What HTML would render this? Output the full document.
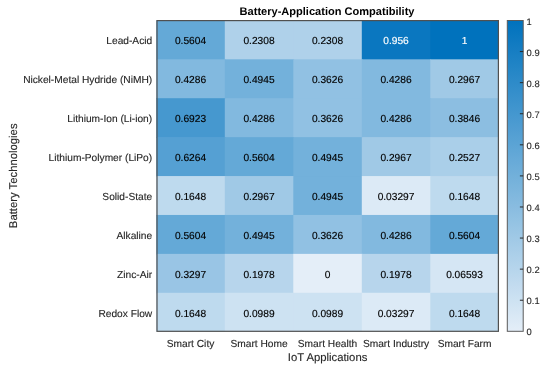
<!DOCTYPE html>
<html><head><meta charset="utf-8"><style>
html,body{margin:0;padding:0;background:#fff;}
body{width:550px;height:369px;overflow:hidden;font-family:"Liberation Sans",sans-serif;}
svg{display:block;will-change:transform;}
text{font-family:"Liberation Sans",sans-serif;text-rendering:geometricPrecision;}
</style></head><body>
<svg width="550" height="369" viewBox="0 0 550 369" font-family="Liberation Sans, sans-serif"><defs><linearGradient id="g" x1="0" y1="0" x2="0" y2="1"><stop offset="0.00" stop-color="#0072bd"/><stop offset="0.05" stop-color="#0b78c0"/><stop offset="0.10" stop-color="#177ec3"/><stop offset="0.15" stop-color="#2285c6"/><stop offset="0.20" stop-color="#2e8bc9"/><stop offset="0.25" stop-color="#3991cc"/><stop offset="0.30" stop-color="#4497cf"/><stop offset="0.35" stop-color="#509dd2"/><stop offset="0.40" stop-color="#5ba4d5"/><stop offset="0.45" stop-color="#67aad8"/><stop offset="0.50" stop-color="#72b0da"/><stop offset="0.55" stop-color="#7db6dd"/><stop offset="0.60" stop-color="#89bce0"/><stop offset="0.65" stop-color="#94c3e3"/><stop offset="0.70" stop-color="#a0c9e6"/><stop offset="0.75" stop-color="#abcfe9"/><stop offset="0.80" stop-color="#b6d5ec"/><stop offset="0.85" stop-color="#c2dbef"/><stop offset="0.90" stop-color="#cde2f2"/><stop offset="0.95" stop-color="#d9e8f5"/><stop offset="1.00" stop-color="#e4eef8"/></linearGradient></defs>
<rect x="156.30" y="20.40" width="69.30" height="39.71" fill="#64a9d7"/>
<rect x="224.80" y="20.40" width="69.30" height="39.71" fill="#afd1ea"/>
<rect x="293.30" y="20.40" width="69.30" height="39.71" fill="#afd1ea"/>
<rect x="361.80" y="20.40" width="69.30" height="39.71" fill="#0a77c0"/>
<rect x="430.30" y="20.40" width="68.50" height="39.71" fill="#0072bd"/>
<rect x="156.30" y="59.31" width="69.30" height="39.71" fill="#82b9df"/>
<rect x="224.80" y="59.31" width="69.30" height="39.71" fill="#73b1db"/>
<rect x="293.30" y="59.31" width="69.30" height="39.71" fill="#91c1e3"/>
<rect x="361.80" y="59.31" width="69.30" height="39.71" fill="#82b9df"/>
<rect x="430.30" y="59.31" width="68.50" height="39.71" fill="#a0c9e6"/>
<rect x="156.30" y="98.22" width="69.30" height="39.71" fill="#4698cf"/>
<rect x="224.80" y="98.22" width="69.30" height="39.71" fill="#82b9df"/>
<rect x="293.30" y="98.22" width="69.30" height="39.71" fill="#91c1e3"/>
<rect x="361.80" y="98.22" width="69.30" height="39.71" fill="#82b9df"/>
<rect x="430.30" y="98.22" width="68.50" height="39.71" fill="#8cbee1"/>
<rect x="156.30" y="137.14" width="69.30" height="39.71" fill="#55a0d3"/>
<rect x="224.80" y="137.14" width="69.30" height="39.71" fill="#64a9d7"/>
<rect x="293.30" y="137.14" width="69.30" height="39.71" fill="#73b1db"/>
<rect x="361.80" y="137.14" width="69.30" height="39.71" fill="#a0c9e6"/>
<rect x="430.30" y="137.14" width="68.50" height="39.71" fill="#aacfe9"/>
<rect x="156.30" y="176.05" width="69.30" height="39.71" fill="#bedaee"/>
<rect x="224.80" y="176.05" width="69.30" height="39.71" fill="#a0c9e6"/>
<rect x="293.30" y="176.05" width="69.30" height="39.71" fill="#73b1db"/>
<rect x="361.80" y="176.05" width="69.30" height="39.71" fill="#dceaf6"/>
<rect x="430.30" y="176.05" width="68.50" height="39.71" fill="#bedaee"/>
<rect x="156.30" y="214.96" width="69.30" height="39.71" fill="#64a9d7"/>
<rect x="224.80" y="214.96" width="69.30" height="39.71" fill="#73b1db"/>
<rect x="293.30" y="214.96" width="69.30" height="39.71" fill="#91c1e3"/>
<rect x="361.80" y="214.96" width="69.30" height="39.71" fill="#82b9df"/>
<rect x="430.30" y="214.96" width="68.50" height="39.71" fill="#64a9d7"/>
<rect x="156.30" y="253.88" width="69.30" height="39.71" fill="#99c5e5"/>
<rect x="224.80" y="253.88" width="69.30" height="39.71" fill="#b7d5ec"/>
<rect x="293.30" y="253.88" width="69.30" height="39.71" fill="#e4eef8"/>
<rect x="361.80" y="253.88" width="69.30" height="39.71" fill="#b7d5ec"/>
<rect x="430.30" y="253.88" width="68.50" height="39.71" fill="#d5e6f4"/>
<rect x="156.30" y="292.79" width="69.30" height="38.91" fill="#bedaee"/>
<rect x="224.80" y="292.79" width="69.30" height="38.91" fill="#cde2f2"/>
<rect x="293.30" y="292.79" width="69.30" height="38.91" fill="#cde2f2"/>
<rect x="361.80" y="292.79" width="69.30" height="38.91" fill="#dceaf6"/>
<rect x="430.30" y="292.79" width="68.50" height="38.91" fill="#bedaee"/>
<text x="190.55" y="44.26" text-anchor="middle" font-size="10.2" fill="#000000" stroke="#000000" stroke-width="0.15">0.5604</text>
<text x="259.05" y="44.26" text-anchor="middle" font-size="10.2" fill="#000000" stroke="#000000" stroke-width="0.15">0.2308</text>
<text x="327.55" y="44.26" text-anchor="middle" font-size="10.2" fill="#000000" stroke="#000000" stroke-width="0.15">0.2308</text>
<text x="396.05" y="44.26" text-anchor="middle" font-size="10.2" fill="#ffffff" stroke="#ffffff" stroke-width="0.15">0.956</text>
<text x="464.55" y="44.26" text-anchor="middle" font-size="10.2" fill="#ffffff" stroke="#ffffff" stroke-width="0.15">1</text>
<text x="190.55" y="83.17" text-anchor="middle" font-size="10.2" fill="#000000" stroke="#000000" stroke-width="0.15">0.4286</text>
<text x="259.05" y="83.17" text-anchor="middle" font-size="10.2" fill="#000000" stroke="#000000" stroke-width="0.15">0.4945</text>
<text x="327.55" y="83.17" text-anchor="middle" font-size="10.2" fill="#000000" stroke="#000000" stroke-width="0.15">0.3626</text>
<text x="396.05" y="83.17" text-anchor="middle" font-size="10.2" fill="#000000" stroke="#000000" stroke-width="0.15">0.4286</text>
<text x="464.55" y="83.17" text-anchor="middle" font-size="10.2" fill="#000000" stroke="#000000" stroke-width="0.15">0.2967</text>
<text x="190.55" y="122.08" text-anchor="middle" font-size="10.2" fill="#000000" stroke="#000000" stroke-width="0.15">0.6923</text>
<text x="259.05" y="122.08" text-anchor="middle" font-size="10.2" fill="#000000" stroke="#000000" stroke-width="0.15">0.4286</text>
<text x="327.55" y="122.08" text-anchor="middle" font-size="10.2" fill="#000000" stroke="#000000" stroke-width="0.15">0.3626</text>
<text x="396.05" y="122.08" text-anchor="middle" font-size="10.2" fill="#000000" stroke="#000000" stroke-width="0.15">0.4286</text>
<text x="464.55" y="122.08" text-anchor="middle" font-size="10.2" fill="#000000" stroke="#000000" stroke-width="0.15">0.3846</text>
<text x="190.55" y="160.99" text-anchor="middle" font-size="10.2" fill="#000000" stroke="#000000" stroke-width="0.15">0.6264</text>
<text x="259.05" y="160.99" text-anchor="middle" font-size="10.2" fill="#000000" stroke="#000000" stroke-width="0.15">0.5604</text>
<text x="327.55" y="160.99" text-anchor="middle" font-size="10.2" fill="#000000" stroke="#000000" stroke-width="0.15">0.4945</text>
<text x="396.05" y="160.99" text-anchor="middle" font-size="10.2" fill="#000000" stroke="#000000" stroke-width="0.15">0.2967</text>
<text x="464.55" y="160.99" text-anchor="middle" font-size="10.2" fill="#000000" stroke="#000000" stroke-width="0.15">0.2527</text>
<text x="190.55" y="199.91" text-anchor="middle" font-size="10.2" fill="#000000" stroke="#000000" stroke-width="0.15">0.1648</text>
<text x="259.05" y="199.91" text-anchor="middle" font-size="10.2" fill="#000000" stroke="#000000" stroke-width="0.15">0.2967</text>
<text x="327.55" y="199.91" text-anchor="middle" font-size="10.2" fill="#000000" stroke="#000000" stroke-width="0.15">0.4945</text>
<text x="396.05" y="199.91" text-anchor="middle" font-size="10.2" fill="#000000" stroke="#000000" stroke-width="0.15">0.03297</text>
<text x="464.55" y="199.91" text-anchor="middle" font-size="10.2" fill="#000000" stroke="#000000" stroke-width="0.15">0.1648</text>
<text x="190.55" y="238.82" text-anchor="middle" font-size="10.2" fill="#000000" stroke="#000000" stroke-width="0.15">0.5604</text>
<text x="259.05" y="238.82" text-anchor="middle" font-size="10.2" fill="#000000" stroke="#000000" stroke-width="0.15">0.4945</text>
<text x="327.55" y="238.82" text-anchor="middle" font-size="10.2" fill="#000000" stroke="#000000" stroke-width="0.15">0.3626</text>
<text x="396.05" y="238.82" text-anchor="middle" font-size="10.2" fill="#000000" stroke="#000000" stroke-width="0.15">0.4286</text>
<text x="464.55" y="238.82" text-anchor="middle" font-size="10.2" fill="#000000" stroke="#000000" stroke-width="0.15">0.5604</text>
<text x="190.55" y="277.73" text-anchor="middle" font-size="10.2" fill="#000000" stroke="#000000" stroke-width="0.15">0.3297</text>
<text x="259.05" y="277.73" text-anchor="middle" font-size="10.2" fill="#000000" stroke="#000000" stroke-width="0.15">0.1978</text>
<text x="327.55" y="277.73" text-anchor="middle" font-size="10.2" fill="#000000" stroke="#000000" stroke-width="0.15">0</text>
<text x="396.05" y="277.73" text-anchor="middle" font-size="10.2" fill="#000000" stroke="#000000" stroke-width="0.15">0.1978</text>
<text x="464.55" y="277.73" text-anchor="middle" font-size="10.2" fill="#000000" stroke="#000000" stroke-width="0.15">0.06593</text>
<text x="190.55" y="316.64" text-anchor="middle" font-size="10.2" fill="#000000" stroke="#000000" stroke-width="0.15">0.1648</text>
<text x="259.05" y="316.64" text-anchor="middle" font-size="10.2" fill="#000000" stroke="#000000" stroke-width="0.15">0.0989</text>
<text x="327.55" y="316.64" text-anchor="middle" font-size="10.2" fill="#000000" stroke="#000000" stroke-width="0.15">0.0989</text>
<text x="396.05" y="316.64" text-anchor="middle" font-size="10.2" fill="#000000" stroke="#000000" stroke-width="0.15">0.03297</text>
<text x="464.55" y="316.64" text-anchor="middle" font-size="10.2" fill="#000000" stroke="#000000" stroke-width="0.15">0.1648</text>
<rect x="157.0" y="20.6" width="341.40" height="310.70" fill="none" stroke="#505050" stroke-width="1.2"/>
<text x="152.2" y="44.16" text-anchor="end" font-size="10.2" fill="#262626" stroke="#262626" stroke-width="0.12">Lead-Acid</text>
<text x="152.2" y="83.07" text-anchor="end" font-size="10.2" fill="#262626" stroke="#262626" stroke-width="0.12">Nickel-Metal Hydride (NiMH)</text>
<text x="152.2" y="121.98" text-anchor="end" font-size="10.2" fill="#262626" stroke="#262626" stroke-width="0.12">Lithium-Ion (Li-ion)</text>
<text x="152.2" y="160.89" text-anchor="end" font-size="10.2" fill="#262626" stroke="#262626" stroke-width="0.12">Lithium-Polymer (LiPo)</text>
<text x="152.2" y="199.81" text-anchor="end" font-size="10.2" fill="#262626" stroke="#262626" stroke-width="0.12">Solid-State</text>
<text x="152.2" y="238.72" text-anchor="end" font-size="10.2" fill="#262626" stroke="#262626" stroke-width="0.12">Alkaline</text>
<text x="152.2" y="277.63" text-anchor="end" font-size="10.2" fill="#262626" stroke="#262626" stroke-width="0.12">Zinc-Air</text>
<text x="152.2" y="316.54" text-anchor="end" font-size="10.2" fill="#262626" stroke="#262626" stroke-width="0.12">Redox Flow</text>
<text x="190.55" y="346.8" text-anchor="middle" font-size="10.2" fill="#262626" stroke="#262626" stroke-width="0.12">Smart City</text>
<text x="259.05" y="346.8" text-anchor="middle" font-size="10.2" fill="#262626" stroke="#262626" stroke-width="0.12">Smart Home</text>
<text x="327.55" y="346.8" text-anchor="middle" font-size="10.2" fill="#262626" stroke="#262626" stroke-width="0.12">Smart Health</text>
<text x="396.05" y="346.8" text-anchor="middle" font-size="10.2" fill="#262626" stroke="#262626" stroke-width="0.12">Smart Industry</text>
<text x="464.55" y="346.8" text-anchor="middle" font-size="10.2" fill="#262626" stroke="#262626" stroke-width="0.12">Smart Farm</text>
<text x="327.05" y="15.2" text-anchor="middle" font-size="11.05" font-weight="bold" fill="#000000">Battery-Application Compatibility</text>
<text x="327.55" y="361.1" text-anchor="middle" font-size="11.3" fill="#262626" stroke="#262626" stroke-width="0.12">IoT Applications</text>
<text transform="translate(16.8,175.8) rotate(-90)" x="0" y="0" text-anchor="middle" font-size="11.3" fill="#262626" stroke="#262626" stroke-width="0.12">Battery Technologies</text>
<rect x="507.3" y="20.5" width="15.90" height="310.80"  fill="url(#g)" stroke="#5a5a5a" stroke-width="1"/>
<text x="526.6" y="335.30" font-size="9.4" fill="#262626" stroke="#262626" stroke-width="0.12">0</text>
<line x1="519.90" y1="300.22" x2="523.20" y2="300.22" stroke="#262626" stroke-width="1"/>
<text x="526.6" y="304.22" font-size="9.4" fill="#262626" stroke="#262626" stroke-width="0.12">0.1</text>
<line x1="519.90" y1="269.14" x2="523.20" y2="269.14" stroke="#262626" stroke-width="1"/>
<text x="526.6" y="273.14" font-size="9.4" fill="#262626" stroke="#262626" stroke-width="0.12">0.2</text>
<line x1="519.90" y1="238.06" x2="523.20" y2="238.06" stroke="#262626" stroke-width="1"/>
<text x="526.6" y="242.06" font-size="9.4" fill="#262626" stroke="#262626" stroke-width="0.12">0.3</text>
<line x1="519.90" y1="206.98" x2="523.20" y2="206.98" stroke="#262626" stroke-width="1"/>
<text x="526.6" y="210.98" font-size="9.4" fill="#262626" stroke="#262626" stroke-width="0.12">0.4</text>
<line x1="519.90" y1="175.90" x2="523.20" y2="175.90" stroke="#262626" stroke-width="1"/>
<text x="526.6" y="179.90" font-size="9.4" fill="#262626" stroke="#262626" stroke-width="0.12">0.5</text>
<line x1="519.90" y1="144.82" x2="523.20" y2="144.82" stroke="#262626" stroke-width="1"/>
<text x="526.6" y="148.82" font-size="9.4" fill="#262626" stroke="#262626" stroke-width="0.12">0.6</text>
<line x1="519.90" y1="113.74" x2="523.20" y2="113.74" stroke="#262626" stroke-width="1"/>
<text x="526.6" y="117.74" font-size="9.4" fill="#262626" stroke="#262626" stroke-width="0.12">0.7</text>
<line x1="519.90" y1="82.66" x2="523.20" y2="82.66" stroke="#262626" stroke-width="1"/>
<text x="526.6" y="86.66" font-size="9.4" fill="#262626" stroke="#262626" stroke-width="0.12">0.8</text>
<line x1="519.90" y1="51.58" x2="523.20" y2="51.58" stroke="#262626" stroke-width="1"/>
<text x="526.6" y="55.58" font-size="9.4" fill="#262626" stroke="#262626" stroke-width="0.12">0.9</text>
<text x="526.6" y="24.50" font-size="9.4" fill="#262626" stroke="#262626" stroke-width="0.12">1</text></svg>
</body></html>
